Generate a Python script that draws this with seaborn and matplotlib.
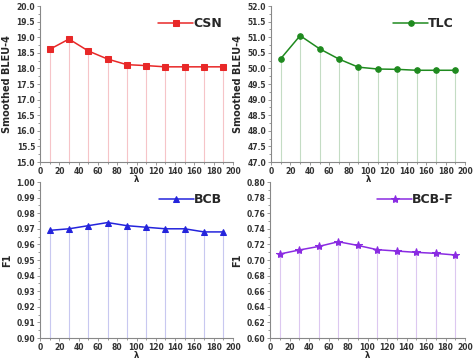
import numpy as np
import pandas as pd
import seaborn as sns
from matplotlib import pyplot as plt
from matplotlib.ticker import AutoMinorLocator, MultipleLocator

# lambda values shared by all four panels
lam = [10, 30, 50, 70, 90, 110, 130, 150, 170, 190]

csn = [18.61, 18.94, 18.56, 18.30, 18.12, 18.09, 18.05, 18.05, 18.05, 18.05]
tlc = [50.31, 51.05, 50.63, 50.30, 50.04, 49.98, 49.97, 49.94, 49.94, 49.94]
bcb = [0.969, 0.970, 0.972, 0.974, 0.972, 0.971, 0.970, 0.970, 0.968, 0.968]
bcbf = [0.7077, 0.7128, 0.7174, 0.7234, 0.7187, 0.7132, 0.7115, 0.7098, 0.7085, 0.7064]

sns.set_style("ticks")
plt.rcParams['font.family'] = ['DejaVu Sans']

fig = plt.figure(figsize=(4.74, 3.62), dpi=100)
W, H = 474, 362


def box(l, r, t, b):
    return [l / W, 1 - b / H, (r - l) / W, (b - t) / H]


panels = [
    # name, values, colour, drop-line colour, marker, ylim, ystep, ylabel, fmt, box
    ('CSN', csn, '#e82828', '#f6c4c8', 's', (15.0, 20.0), 0.5, 'Smoothed BLEU-4', '{:.1f}', box(40, 233, 6, 162)),
    ('TLC', tlc, '#1f8a1f', '#c4dcc4', 'o', (47.0, 52.0), 0.5, 'Smoothed BLEU-4', '{:.1f}', box(271, 465, 6, 162)),
    ('BCB', bcb, '#2424dc', '#c8c8f0', '^', (0.90, 1.00), 0.01, 'F1', '{:.2f}', box(40, 233, 182, 338)),
    ('BCB-F', bcbf, '#8a2be2', '#dcc8f0', '*', (0.60, 0.80), 0.02, 'F1', '{:.2f}', box(270, 465, 182, 338)),
]

msize = {'s': 3.8, 'o': 4.0, '^': 4.5, '*': 6.0}

for name, vals, col, dcol, mk, ylim, ystep, ylab, fmt, pos in panels:
    ax = fig.add_axes(pos)
    df = pd.DataFrame({'lam': lam, 'val': vals})
    ax.vlines(df['lam'], ylim[0], df['val'], colors=dcol, linewidth=0.8, zorder=1)
    sns.lineplot(data=df, x='lam', y='val', ax=ax, color=col, marker=mk,
                 markersize=msize[mk], markeredgecolor=col,
                 linewidth=1.1, label=name, zorder=3)
    ax.set_xlim(0, 200)
    ax.set_ylim(*ylim)
    ax.xaxis.set_major_locator(MultipleLocator(20))
    ax.xaxis.set_minor_locator(AutoMinorLocator(2))
    yt = np.arange(ylim[0], ylim[1] + ystep / 2, ystep)
    ax.set_yticks(yt)
    ax.set_yticklabels([fmt.format(v) for v in yt])
    ax.yaxis.set_minor_locator(AutoMinorLocator(2))
    sns.despine(ax=ax)
    for sp in ('left', 'bottom'):
        ax.spines[sp].set_color('#888888')
        ax.spines[sp].set_linewidth(0.8)
    ax.tick_params(which='both', colors='#888888', labelcolor='#333333', labelsize=5.5,
                   length=2, width=0.6, pad=1.5)
    ax.tick_params(which='minor', length=1.2)
    for t in ax.get_xticklabels() + ax.get_yticklabels():
        t.set_fontweight('bold')
    ax.set_xlabel('λ', fontsize=6, fontweight='bold')
    ax.xaxis.set_label_coords(0.5, -0.085)
    ax.set_ylabel(ylab, fontsize=7, fontweight='bold', labelpad=3)
    leg = ax.legend(loc='upper right', frameon=False, fontsize=9, handlelength=2.8,
                    handletextpad=0.0, borderaxespad=0.5)
    for t in leg.get_texts():
        t.set_fontweight('bold')

fig.savefig('out.png', dpi=100)
